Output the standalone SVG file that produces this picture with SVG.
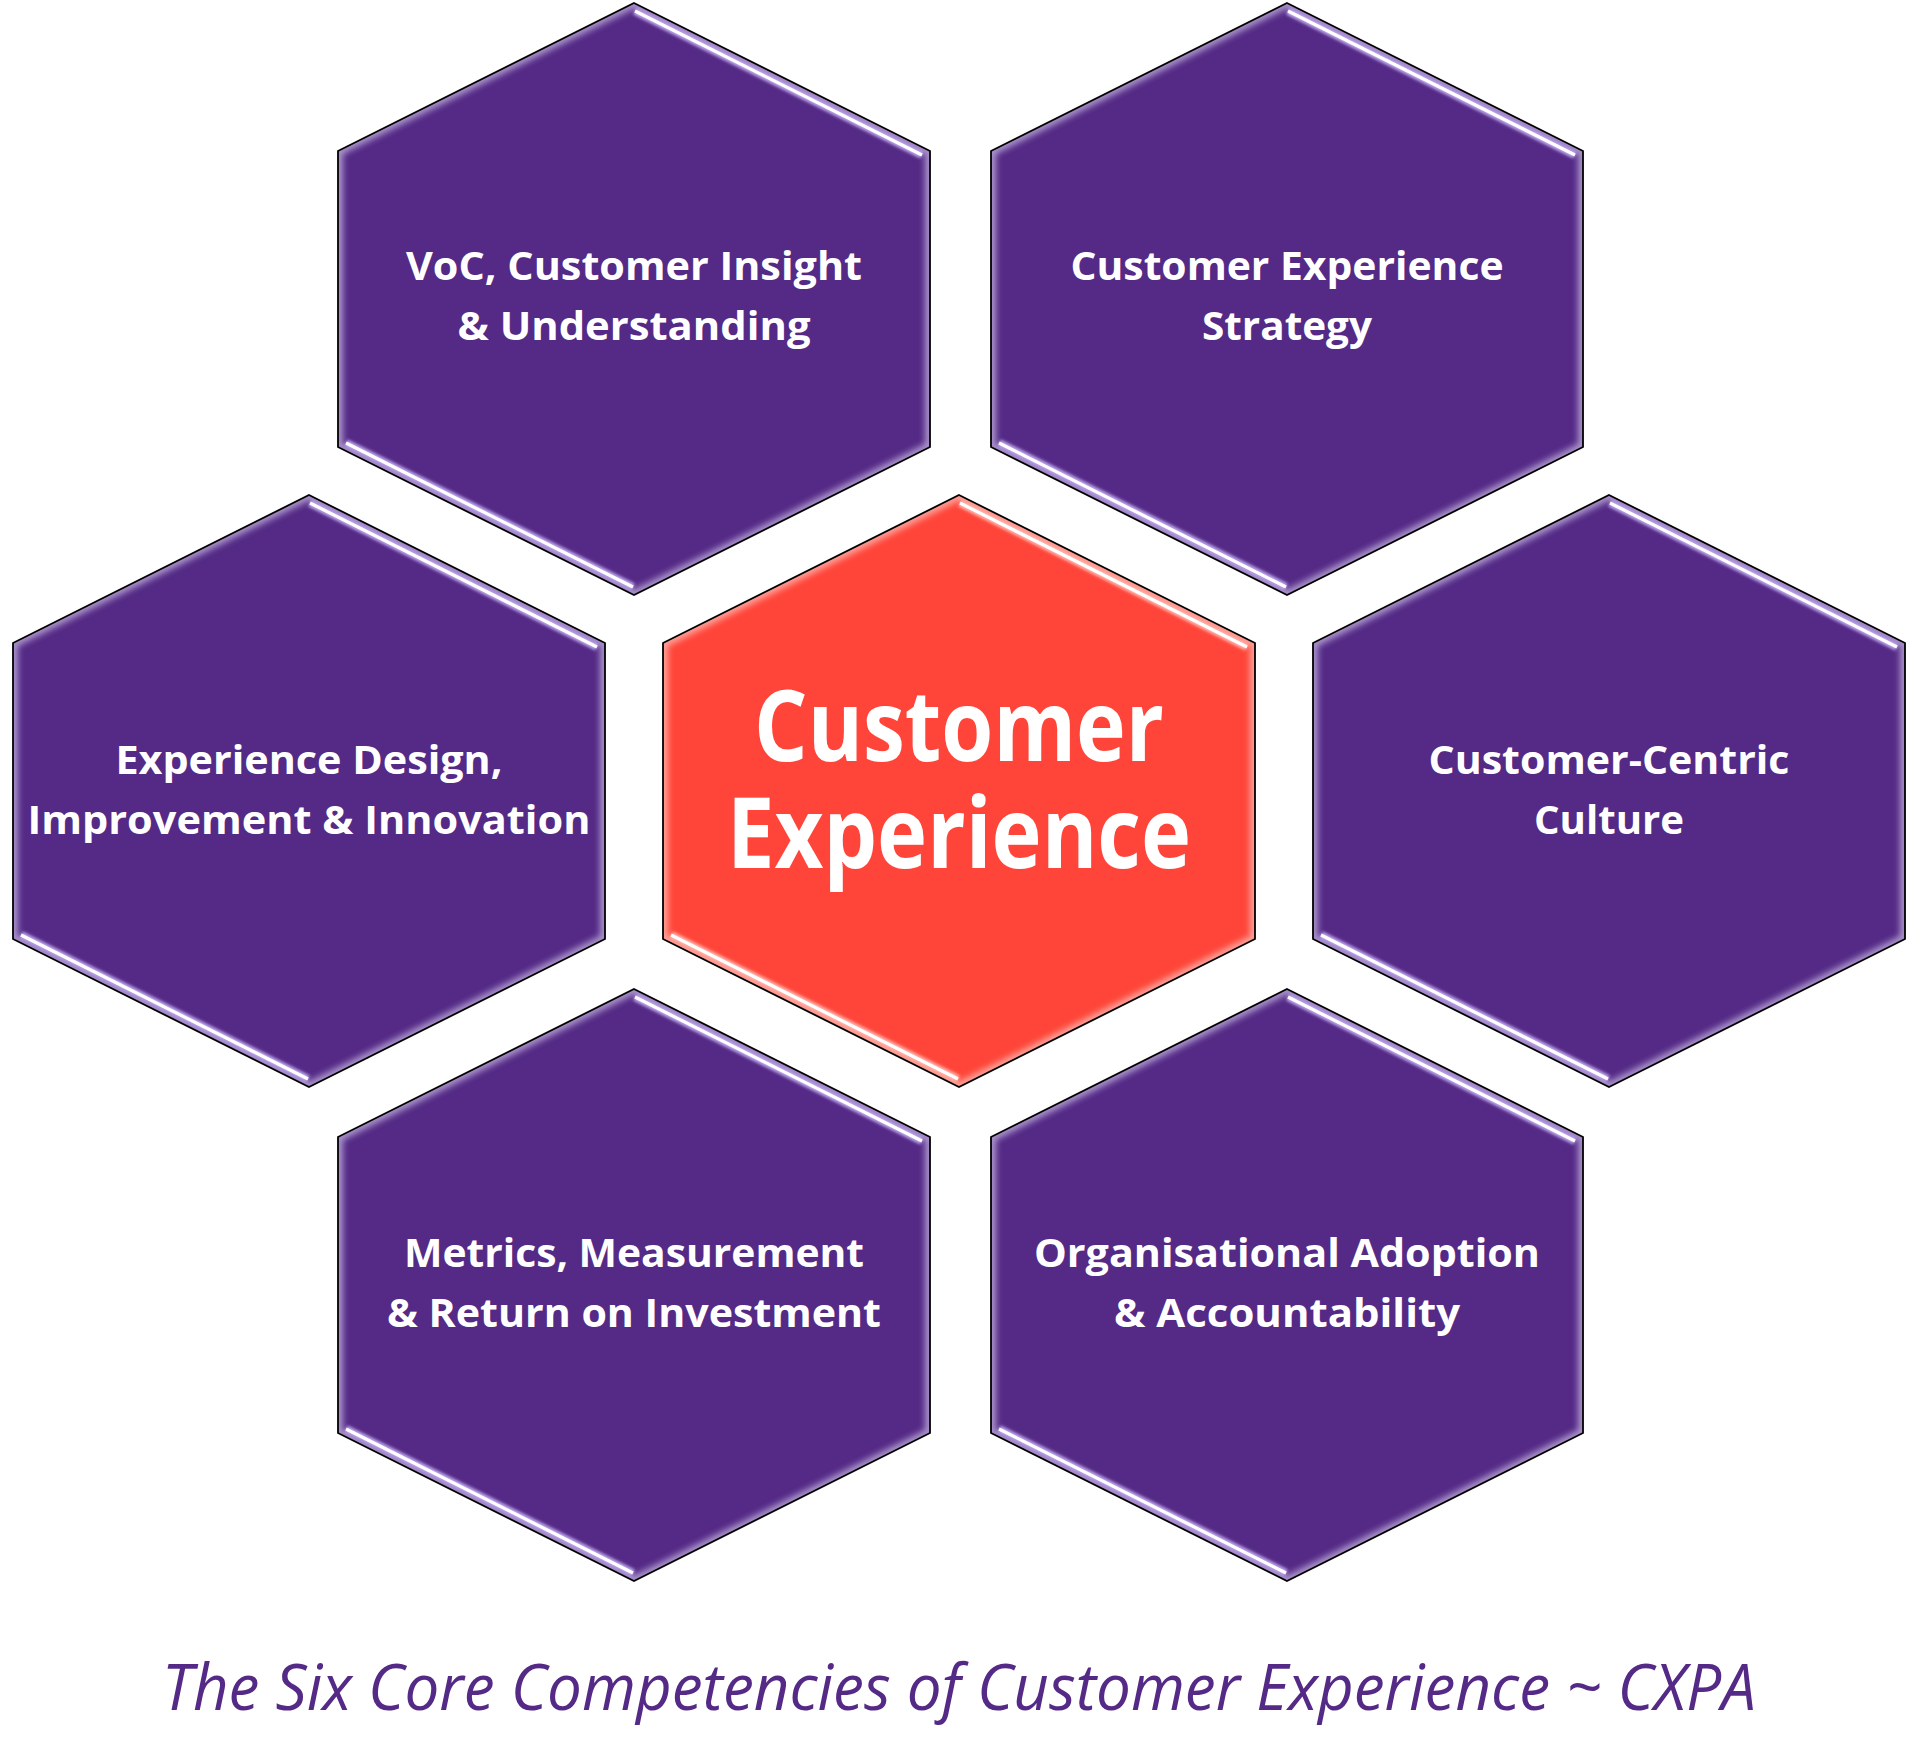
<svg xmlns="http://www.w3.org/2000/svg" width="1908" height="1762" viewBox="0 0 1908 1762">
<style>
.p{fill:#542A86}
.r{fill:#FF4539}
.edgeP{fill:none;stroke:#E6DCFA;stroke-width:10;opacity:.6}
.edgeR{fill:none;stroke:#FFE0DC;stroke-width:10;opacity:.6}
.ol{fill:none;stroke:#000;stroke-width:1.8;stroke-linejoin:miter}
.glowP{fill:none;stroke:#BBA3EA;stroke-width:8}
.glowR{fill:none;stroke:#FFB2AA;stroke-width:8}
.core{fill:none;stroke:#fff;stroke-width:3.2}
.lbl{font-family:"Open Sans","Noto Sans",sans-serif;font-weight:700;font-size:40px;fill:#fff;text-anchor:middle}
.big{font-family:"Open Sans","Noto Sans",sans-serif;font-weight:700;font-size:98px;fill:#fff;text-anchor:middle}
.cap{font-family:"Open Sans","Noto Sans",sans-serif;font-style:italic;font-weight:400;font-size:64px;fill:#542A86;text-anchor:middle}
</style>
<defs>
<path id="hex" d="M0,-296 L296,-148 L296,148 L0,296 L-296,148 L-296,-148 Z"/>
<clipPath id="hc"><path d="M0,-296 L296,-148 L296,148 L0,296 L-296,148 L-296,-148 Z"/></clipPath>
<filter id="soft" x="-10%" y="-10%" width="120%" height="120%"><feGaussianBlur stdDeviation="3"/></filter>
<filter id="soft1" x="-10%" y="-15%" width="120%" height="130%"><feGaussianBlur stdDeviation="1.5"/></filter>
<g id="hl"><path d="M1,-288 L288,-144"/><path d="M-288,144 L-1,288"/></g>
</defs>

<g id="connectors"></g>

<g id="n-voc" transform="translate(634,299)">
<use href="#hex" class="p"/>
<g clip-path="url(#hc)"><use href="#hex" class="edgeP" filter="url(#soft)"/></g>
<use href="#hl" class="glowP" filter="url(#soft1)"/>
<use href="#hl" class="core"/>
<use href="#hex" class="ol"/>
<text class="lbl" x="0" y="-19" textLength="456" lengthAdjust="spacingAndGlyphs">VoC, Customer Insight</text>
<text class="lbl" x="0" y="41" textLength="353" lengthAdjust="spacingAndGlyphs">&amp; Understanding</text>
</g>

<g id="n-strategy" transform="translate(1287,299)">
<use href="#hex" class="p"/>
<g clip-path="url(#hc)"><use href="#hex" class="edgeP" filter="url(#soft)"/></g>
<use href="#hl" class="glowP" filter="url(#soft1)"/>
<use href="#hl" class="core"/>
<use href="#hex" class="ol"/>
<text class="lbl" x="0" y="-19" textLength="433" lengthAdjust="spacingAndGlyphs">Customer Experience</text>
<text class="lbl" x="0" y="41" textLength="170" lengthAdjust="spacingAndGlyphs">Strategy</text>
</g>

<g id="n-design" transform="translate(309,791)">
<use href="#hex" class="p"/>
<g clip-path="url(#hc)"><use href="#hex" class="edgeP" filter="url(#soft)"/></g>
<use href="#hl" class="glowP" filter="url(#soft1)"/>
<use href="#hl" class="core"/>
<use href="#hex" class="ol"/>
<text class="lbl" x="0" y="-17" textLength="387" lengthAdjust="spacingAndGlyphs">Experience Design,</text>
<text class="lbl" x="0" y="43" textLength="563" lengthAdjust="spacingAndGlyphs">Improvement &amp; Innovation</text>
</g>

<g id="n-cx" transform="translate(959,791)">
<use href="#hex" class="r"/>
<g clip-path="url(#hc)"><use href="#hex" class="edgeR" filter="url(#soft)"/></g>
<use href="#hl" class="glowR" filter="url(#soft1)"/>
<use href="#hl" class="core"/>
<use href="#hex" class="ol"/>
<text class="big" x="0" y="-30" textLength="410" lengthAdjust="spacingAndGlyphs">Customer</text>
<text class="big" x="0" y="77" textLength="464" lengthAdjust="spacingAndGlyphs">Experience</text>
</g>

<g id="n-culture" transform="translate(1609,791)">
<use href="#hex" class="p"/>
<g clip-path="url(#hc)"><use href="#hex" class="edgeP" filter="url(#soft)"/></g>
<use href="#hl" class="glowP" filter="url(#soft1)"/>
<use href="#hl" class="core"/>
<use href="#hex" class="ol"/>
<text class="lbl" x="0" y="-17" textLength="361" lengthAdjust="spacingAndGlyphs">Customer-Centric</text>
<text class="lbl" x="0" y="43" textLength="150" lengthAdjust="spacingAndGlyphs">Culture</text>
</g>

<g id="n-metrics" transform="translate(634,1285)">
<use href="#hex" class="p"/>
<g clip-path="url(#hc)"><use href="#hex" class="edgeP" filter="url(#soft)"/></g>
<use href="#hl" class="glowP" filter="url(#soft1)"/>
<use href="#hl" class="core"/>
<use href="#hex" class="ol"/>
<text class="lbl" x="0" y="-18" textLength="460" lengthAdjust="spacingAndGlyphs">Metrics, Measurement</text>
<text class="lbl" x="0" y="42" textLength="494" lengthAdjust="spacingAndGlyphs">&amp; Return on Investment</text>
</g>

<g id="n-adoption" transform="translate(1287,1285)">
<use href="#hex" class="p"/>
<g clip-path="url(#hc)"><use href="#hex" class="edgeP" filter="url(#soft)"/></g>
<use href="#hl" class="glowP" filter="url(#soft1)"/>
<use href="#hl" class="core"/>
<use href="#hex" class="ol"/>
<text class="lbl" x="0" y="-18" textLength="506" lengthAdjust="spacingAndGlyphs">Organisational Adoption</text>
<text class="lbl" x="0" y="42" textLength="346" lengthAdjust="spacingAndGlyphs">&amp; Accountability</text>
</g>

<text id="caption" class="cap" x="959" y="1710" textLength="1594" lengthAdjust="spacingAndGlyphs">The Six Core Competencies of Customer Experience ~ CXPA</text>
</svg>
